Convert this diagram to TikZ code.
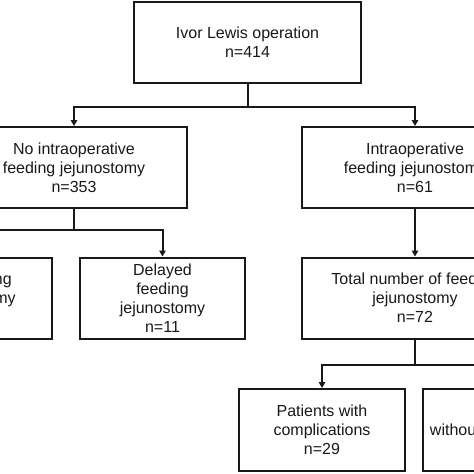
\documentclass[tikz,border=0pt]{standalone}
\usepackage{fontspec}
\setmainfont{Liberation Sans}
\usetikzlibrary{arrows.meta}
\begin{document}
\begin{tikzpicture}[x=1pt,y=-1pt,
  box/.style={draw=black!90, line width=2pt, minimum width=#1, minimum height=81pt,
    align=center, inner sep=0pt, text=black!90, font=\fontsize{16}{19}\selectfont},
  link/.style={line width=2pt, draw=black!90},
  arr/.style={link, -{Triangle[length=6pt,width=6.5pt]}}]
\useasboundingbox (0,0) rectangle (474,474);
\fill[white] (0,0) rectangle (474,474);
\clip (0,0) rectangle (474,474);
\node[box=227pt] (top) at (247.5,42.5) {Ivor Lewis operation\\n=414};
\node[box=226pt] (no) at (74,167.5) {No intraoperative\\feeding jejunostomy\\n=353};
\node[box=226pt] (intra) at (415,167.5) {Intraoperative\\feeding jejunostomy\\n=61};
\node[box=158pt] (nofeed) at (-27,298) {No feeding\\jejunostomy\\n=342};
\node[box=165pt] (delayed) at (162.5,298) {Delayed\\feeding\\jejunostomy\\n=11};
\node[box=226pt] (total) at (415,298) {Total number of feeding\\jejunostomy\\n=72};
\node[box=166pt, minimum height=82pt] (with) at (322,430) {Patients with\\complications\\n=29};
\node[box=166pt, minimum height=82pt] (without) at (506,430) {Patients\\without complications\\n=43};
\coordinate (j1) at (247.5,107);
\coordinate (j2) at (74,230);
\coordinate (j3) at (415,365);
\draw[link] (top.south) -- (j1);
\draw[arr] (j1) -| (no.north);
\draw[arr] (j1) -| (intra.north);
\draw[link] (no.south) -- (j2);
\draw[arr] (j2) -| (delayed.north);
\draw[arr] (j2) -| (nofeed.north);
\draw[arr] (intra.south) -- (total.north);
\draw[link] (total.south) -- (j3);
\draw[arr] (j3) -| (with.north);
\draw[arr] (j3) -| (without.north);
\end{tikzpicture}
\end{document}
